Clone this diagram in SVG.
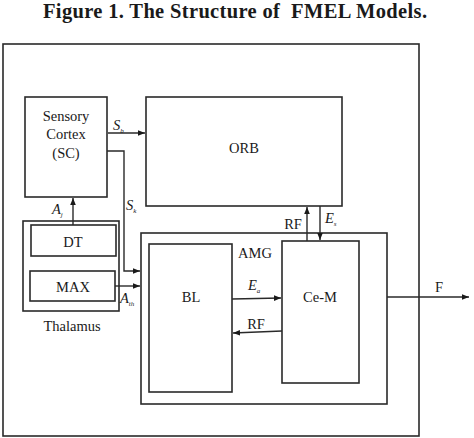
<svg xmlns="http://www.w3.org/2000/svg" width="474" height="438" viewBox="0 0 474 438">
<defs>
<marker id="ah" viewBox="0 0 10 10" refX="10" refY="5" markerWidth="7" markerHeight="7" markerUnits="userSpaceOnUse" orient="auto">
<path d="M0,1 L10,5 L0,9 z" fill="#1a1a1a"/>
</marker>
<style>
.box{fill:none;stroke:#2a2a2a;stroke-width:1.6}
.ln{fill:none;stroke:#2a2a2a;stroke-width:1.4}
.t{font-family:'Liberation Serif','Times New Roman',serif;font-size:14.5px;fill:#1a1a1a;text-anchor:middle}
.it{font-family:'Liberation Serif','Times New Roman',serif;font-style:italic;font-size:14.5px;fill:#1a1a1a}
.sub{font-size:7px}
</style>
</defs>
<rect width="474" height="438" fill="#fff"/>
<text x="235" y="18" font-family="Liberation Serif, Times New Roman, serif" font-weight="bold" font-size="20.5" text-anchor="middle" textLength="384" fill="#1a1a1a">Figure 1. The Structure of&#160; FMEL Models.</text>
<rect id="frame" x="3" y="44" width="416" height="392" class="box"/>
<g id="sc"><rect x="25" y="97" width="82" height="100" class="box"/>
<text class="t" x="66" y="121">Sensory</text><text class="t" x="66" y="139">Cortex</text><text class="t" x="66" y="158">(SC)</text></g>
<g id="orb"><rect x="146" y="97" width="196" height="109" class="box"/><text class="t" x="244" y="153">ORB</text></g>
<g id="thalamus"><rect x="23" y="221" width="96" height="90" class="box"/><text class="t" x="72" y="331">Thalamus</text></g>
<g id="dt"><rect x="31" y="225" width="85" height="31" class="box"/><text class="t" x="73" y="247">DT</text></g>
<g id="max"><rect x="30" y="271" width="85" height="30" class="box"/><text class="t" x="73" y="292">MAX</text></g>
<g id="amg"><rect x="141" y="233" width="246" height="171" class="box"/><text class="t" x="255" y="258">AMG</text></g>
<g id="bl"><rect x="149" y="244" width="83" height="148" class="box"/><text class="t" x="191" y="302">BL</text></g>
<g id="cem"><rect x="282" y="241" width="77" height="142" class="box"/><text class="t" x="320" y="302">Ce-M</text></g>
<g id="connectors">
<line class="ln" x1="108" y1="133" x2="145" y2="133" marker-end="url(#ah)"/>
<polyline class="ln" points="107,151 124,151 124,271 140,271" marker-end="url(#ah)"/>
<line class="ln" x1="73" y1="225" x2="73" y2="198" marker-end="url(#ah)"/>
<line class="ln" x1="115" y1="286" x2="140" y2="286" marker-end="url(#ah)"/>
<line class="ln" x1="232" y1="299" x2="281" y2="298" marker-end="url(#ah)"/>
<line class="ln" x1="282" y1="331" x2="233" y2="333" marker-end="url(#ah)"/>
<line class="ln" x1="307" y1="241" x2="307" y2="207" marker-end="url(#ah)"/>
<line class="ln" x1="320" y1="206" x2="320" y2="240" marker-end="url(#ah)"/>
<line class="ln" x1="387" y1="297" x2="469" y2="297" marker-end="url(#ah)"/>
</g>
<g id="labels">
<text class="it" x="113" y="130">S<tspan class="sub" dy="3">b</tspan></text>
<text class="it" x="126" y="210">S<tspan class="sub" dy="3">k</tspan></text>
<text class="it" x="52" y="214">A<tspan class="sub" dy="3">j</tspan></text>
<text class="it" x="120" y="303">A<tspan class="sub" dy="3">th</tspan></text>
<text class="it" x="248" y="290">E<tspan class="sub" dy="3">a</tspan></text>
<text class="t" x="256" y="329">RF</text>
<text class="t" x="293" y="229">RF</text>
<text class="it" x="325" y="223">E<tspan class="sub" dy="3">s</tspan></text>
<text class="t" x="439" y="292">F</text>
</g>
</svg>
